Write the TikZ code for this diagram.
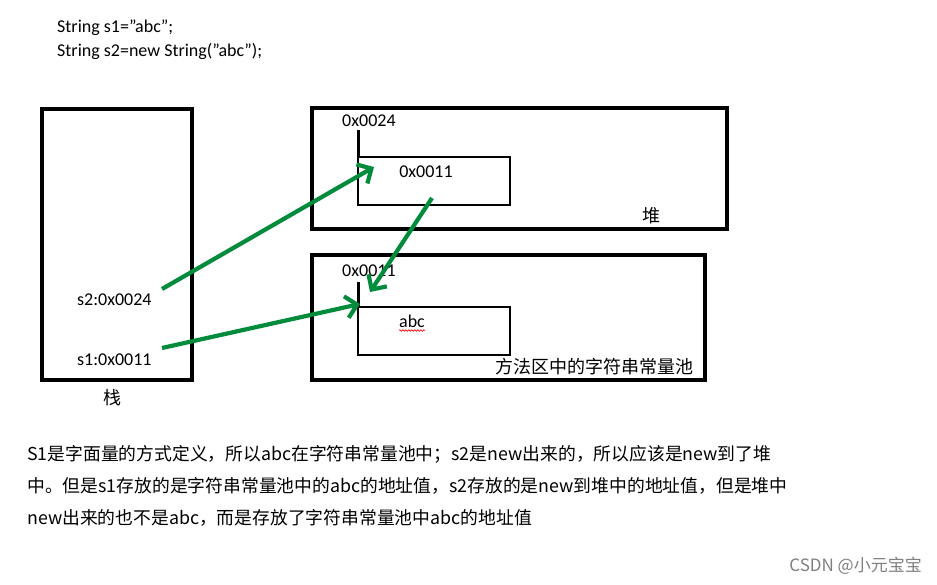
\documentclass[tikz,border=0pt]{standalone}
\usepackage{fontspec}
\setmainfont{Carlito}
\newfontfamily\cjk{Noto Sans CJK SC}
\usetikzlibrary{arrows.meta,decorations.pathmorphing}
\definecolor{arrowgreen}{RGB}{0,140,60}
\newcommand{\dq}{\symbol{34}}
\tikzset{
  box/.style={draw,line width=3.5pt},
  inbox/.style={draw,line width=1.2pt},
  lbl/.style={font=\fontsize{18}{20}\selectfont,inner sep=0pt},
  body/.style={font=\cjk\fontsize{17.8}{20}\selectfont,inner sep=0pt,anchor=west},
  ptr/.style={draw=arrowgreen,line width=4.2pt,-{Straight Barb[length=11pt,width=22pt,line width=4.2pt]}},
  bar/.style={line width=3pt}
}
\begin{document}
\begin{tikzpicture}[x=1pt,y=-1pt]
\useasboundingbox[fill=white] (0,0) rectangle (937,584);
\node[lbl,anchor=west] (c1) at (57,28) {String s1=\dq abc\dq;};
\node[lbl,anchor=west] (c2) at (57,51) {String s2=new String(\dq abc\dq);};
\draw[box] (42,109) rectangle (192,380);
\draw[box] (312,108) rectangle (727,229);
\draw[box] (312,255) rectangle (705,380);
\draw[inbox] (358,157) rectangle (510,205);
\draw[inbox] (358,307) rectangle (510,355);
\draw[bar] (358,130) -- (358,157);
\draw[bar] (358,282) -- (358,307);
\node[lbl,anchor=west] (h1) at (342,121) {0x0024};
\node[lbl] (h2) at (426,172) {0x0011};
\node[font=\cjk\fontsize{18}{20}\selectfont,inner sep=0pt] (heapl) at (651,216) {堆};
\node[lbl,anchor=west] (p1) at (342,271) {0x0011};
\node[lbl] (p2) at (412,321) {abc};
\draw[red,line width=0.6pt,decorate,decoration={snake,amplitude=0.8pt,segment length=3pt}] (p2.south west)++(0,3) -- ++(26,0);
\node[font=\cjk\fontsize{18}{20}\selectfont,inner sep=0pt,anchor=east] (pooll) at (694,367) {方法区中的字符串常量池};
\node[lbl,anchor=west] (s2) at (77,300) {s2:0x0024};
\node[lbl,anchor=west] (s1) at (77,360) {s1:0x0011};
\node[font=\cjk\fontsize{18}{20}\selectfont,inner sep=0pt] (stackl) at (112,398) {栈};
\coordinate (a1) at (162,289); \coordinate (b1) at (374,167);
\coordinate (a2) at (162,348); \coordinate (b2) at (360,304);
\coordinate (a3) at (432,198); \coordinate (b3) at (370,292);
\draw[ptr] (a1) -- (b1);
\draw[ptr] (a2) -- (b2);
\draw[ptr] (a3) -- (b3);
\node[body] (t1) at (27,454) {S1是字面量的方式定义，所以abc在字符串常量池中；s2是new出来的，所以应该是new到了堆};
\node[body] (t2) at (27,486) {中。但是s1存放的是字符串常量池中的abc的地址值，s2存放的是new到堆中的地址值，但是堆中};
\node[body] (t3) at (27,518) {new出来的也不是abc，而是存放了字符串常量池中abc的地址值};
\node[font=\cjk\fontsize{17}{19}\selectfont,text=gray,inner sep=0pt,anchor=east] (wm) at (922,566) {CSDN @小元宝宝};
\end{tikzpicture}
\end{document}
